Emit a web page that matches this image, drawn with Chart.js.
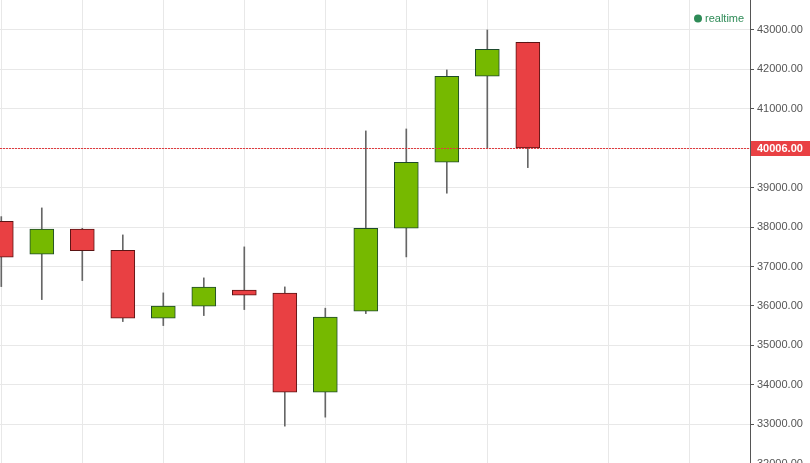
<!DOCTYPE html>
<html>
<head>
<meta charset="utf-8">
<script src="https://cdn.jsdelivr.net/npm/chart.js@4/dist/chart.umd.min.js"></script>
<style>
  html, body { margin: 0; padding: 0; background: #ffffff; }
  #wrap { width: 810px; height: 463px; }
</style>
</head>
<body>
<div id="wrap"><canvas id="c" width="810" height="463"></canvas></div>
<script>
// ---- data ----
const candleIndex = [0, 1, 2, 3, 4, 5, 6, 7, 8, 9, 10, 11, 12, 13];
const opens  = [38148, 37312, 37946, 37413, 35689, 35993, 36399, 36323, 33812, 35866, 37971, 39645, 41826, 42688];
const highs  = [38265, 38486, 37970, 37801, 36330, 36711, 37497, 36482, 35942, 40439, 40489, 41986, 43000, 42688];
const lows   = [36490, 36160, 36642, 35603, 35501, 35755, 35907, 32950, 33178, 35805, 37243, 38859, 40000, 39508];
const closes = [37235, 37946, 37403, 35689, 35993, 36475, 36272, 33812, 35714, 37971, 39645, 41826, 42511, 40006];
const gridTicks = [0, 2, 4, 6, 8, 10, 12, 15, 17];
const priceTicks = [32000, 33000, 34000, 35000, 36000, 37000, 38000, 39000, 40000, 41000, 42000, 43000];
const lastPrice = 40006;
const seriesLabel = 'realtime';

// ---- styles ----
const UP_FILL = '#76b900', UP_BORDER = '#1e4a2c';
const DOWN_FILL = '#e94043', DOWN_BORDER = '#5a1414';
const WICK = '#666666';
const GRID = '#e8e8e8';

const bodies = candleIndex.map((x, i) => ({ x: x, y: [opens[i], closes[i]] }));
const wicks  = candleIndex.map((x, i) => ({ x: x, y: [lows[i], highs[i]] }));
const isUp = (i) => closes[i] >= opens[i];

const overlay = {
  id: 'overlay',
  afterDatasetsDraw(chart) {
    const { ctx, chartArea, scales } = chart;
    const y = Math.round(scales.y.getPixelForValue(lastPrice)) + 0.5;
    ctx.save();
    ctx.strokeStyle = '#e03a3e';
    ctx.lineWidth = 1;
    ctx.setLineDash([2, 1]);
    ctx.beginPath();
    ctx.moveTo(chartArea.left, y);
    ctx.lineTo(chartArea.right, y);
    ctx.stroke();
    ctx.setLineDash([]);
    // price tag
    ctx.fillStyle = '#e94043';
    ctx.fillRect(chartArea.right + 1, y - 7.5, 60, 15);
    ctx.fillStyle = '#ffffff';
    ctx.font = 'bold 11px "Liberation Sans", Arial, sans-serif';
    ctx.textBaseline = 'middle';
    ctx.textAlign = 'left';
    ctx.fillText(lastPrice.toFixed(2), chartArea.right + 7, y + 0.5);
    // legend
    ctx.fillStyle = '#2e8b57';
    ctx.beginPath();
    ctx.arc(698, 18.5, 4, 0, Math.PI * 2);
    ctx.fill();
    ctx.font = '11px "Liberation Sans", Arial, sans-serif';
    ctx.fillText(seriesLabel, 705, 18.5);
    ctx.restore();
  }
};

new Chart(document.getElementById('c'), {
  type: 'bar',
  data: {
    datasets: [
      {
        label: seriesLabel,
        data: bodies,
        order: 0,
        grouped: false,
        barThickness: 24,
        borderWidth: 1,
        borderSkipped: false,
        backgroundColor: (c) => isUp(c.dataIndex) ? UP_FILL : DOWN_FILL,
        borderColor: (c) => isUp(c.dataIndex) ? UP_BORDER : DOWN_BORDER
      },
      {
        label: 'wick',
        data: wicks,
        order: 1,
        grouped: false,
        barThickness: 1,
        borderWidth: 0,
        borderSkipped: false,
        backgroundColor: WICK
      }
    ]
  },
  options: {
    responsive: false,
    devicePixelRatio: 1,
    animation: false,
    layout: { padding: 0, autoPadding: false },
    plugins: { legend: { display: false }, tooltip: { enabled: false } },
    scales: {
      x: {
        type: 'linear',
        min: -0.032,
        max: 18.486,
        offset: false,
        grid: { color: GRID, lineWidth: 1, drawTicks: false, offset: false },
        border: { display: false },
        ticks: { display: false },
        afterBuildTicks: (s) => { s.ticks = gridTicks.map(v => ({ value: v })); },
        afterFit: (s) => { s.height = 0; s.paddingLeft = 0; s.paddingRight = 0; }
      },
      y: {
        type: 'linear',
        position: 'right',
        min: 32015,
        max: 43760,
        grid: { color: GRID, lineWidth: 1, tickLength: 4, tickColor: '#555555', offset: false },
        border: { display: true, color: '#555555', width: 1 },
        ticks: {
          padding: 3,
          color: '#555555',
          font: { family: '"Liberation Sans", Arial, sans-serif', size: 11 },
          callback: (v) => Number(v).toFixed(2)
        },
        afterBuildTicks: (s) => { s.ticks = priceTicks.map(v => ({ value: v })); },
        afterFit: (s) => { s.width = 60; s.paddingTop = 0; s.paddingBottom = 0; }
      }
    }
  },
  plugins: [overlay]
});
</script>
</body>
</html>
